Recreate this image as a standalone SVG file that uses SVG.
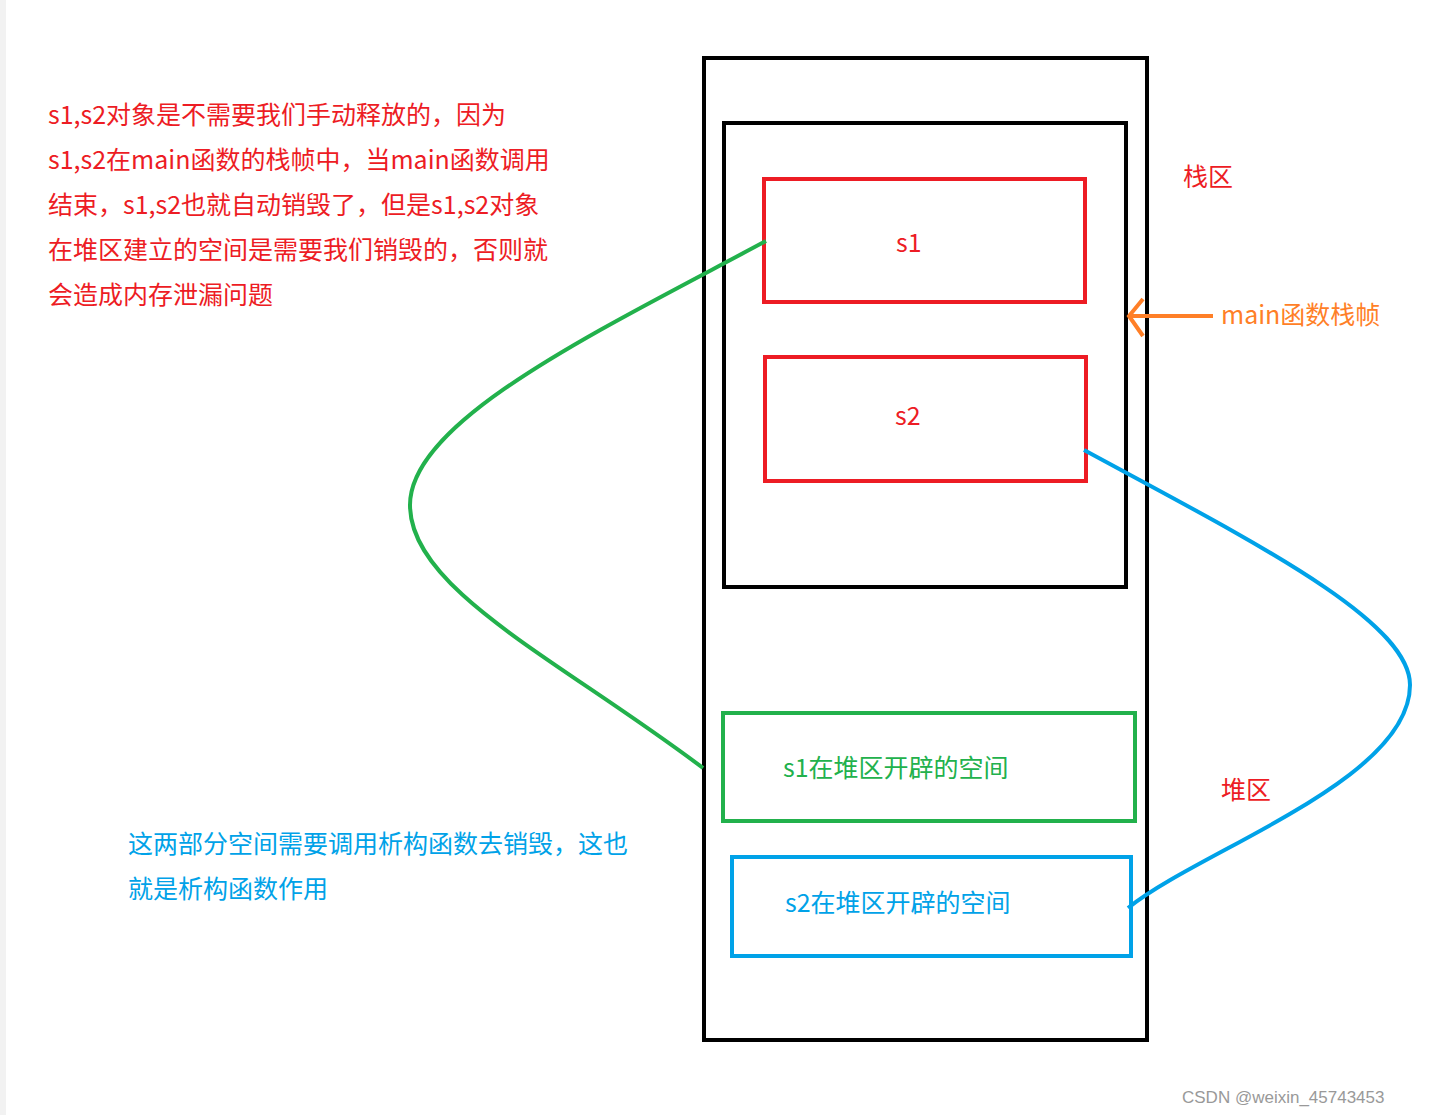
<svg xmlns="http://www.w3.org/2000/svg" width="1429" height="1115" viewBox="0 0 1429 1115">
<style>
text{font-family:"Noto Sans CJK SC","Microsoft YaHei",sans-serif;font-size:25px}
.r{fill:#ed1c24}.g{fill:#22b14c}.b{fill:#00a2e8}.o{fill:#ff7f27}
.k{fill:none;stroke:#000;stroke-width:4}
</style>
<rect width="1429" height="1115" fill="#fff"/>
<rect x="0" y="0" width="6" height="1115" fill="#f2f2f2"/>
<g id="outer"><rect class="k" x="704" y="58" width="443" height="982"/></g>
<g id="stack"><rect class="k" x="724" y="123" width="402" height="464"/></g>
<g id="s1"><rect x="764" y="179" width="321" height="123" fill="none" stroke="#ed1c24" stroke-width="4"/><text class="r" x="896" y="252">s1</text></g>
<g id="s2"><rect x="765" y="357" width="321" height="124" fill="none" stroke="#ed1c24" stroke-width="4"/><text class="r" x="895" y="425">s2</text></g>
<g id="heap1"><rect x="723" y="713" width="412" height="108" fill="none" stroke="#22b14c" stroke-width="4"/><text class="g" x="783" y="777">s1在堆区开辟的空间</text></g>
<g id="heap2"><rect x="732" y="857" width="399" height="99" fill="none" stroke="#00a2e8" stroke-width="4"/><text class="b" x="785" y="912">s2在堆区开辟的空间</text></g>
<g id="connectors" fill="none" stroke-width="4">
<path d="M766,241 C600,330 410,420 410,505 C410,590 560,660 703,768" stroke="#22b14c"/>
<path d="M1084,450 C1250,540 1410,620 1410,685 C1410,780 1200,850 1128,908" stroke="#00a2e8"/>
<path d="M1213,316 H1130 M1143,299 L1129,316 L1143,336" stroke="#ff7f27"/>
</g>
<g id="labels">
<text class="r" x="1183" y="186">栈区</text>
<text class="r" x="1221" y="799">堆区</text>
<text class="o" x="1221" y="324">main函数栈帧</text>
<text class="r" x="48" y="124">s1,s2对象是不需要我们手动释放的，因为</text>
<text class="r" x="48" y="169">s1,s2在main函数的栈帧中，当main函数调用</text>
<text class="r" x="48" y="214">结束，s1,s2也就自动销毁了，但是s1,s2对象</text>
<text class="r" x="48" y="259">在堆区建立的空间是需要我们销毁的，否则就</text>
<text class="r" x="48" y="304">会造成内存泄漏问题</text>
<text class="b" x="128" y="853">这两部分空间需要调用析构函数去销毁，这也</text>
<text class="b" x="128" y="898">就是析构函数作用</text>
<text x="1182" y="1103" style="font-size:17px;fill:#999;font-family:'Liberation Sans',sans-serif">CSDN @weixin_45743453</text>
</g>
</svg>
